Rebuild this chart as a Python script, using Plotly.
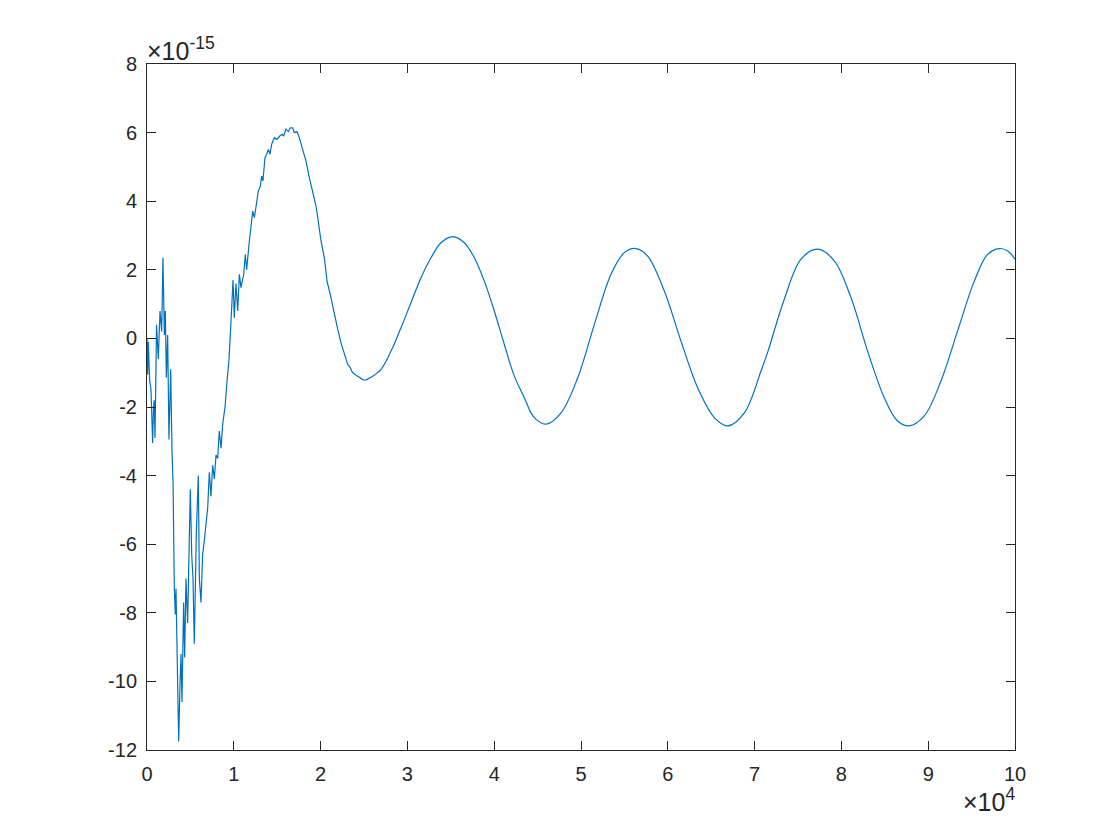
import plotly.graph_objects as go

# x in units of 1e4, y in units of 1e-15
noisy_x = [0, 0.008, 0.015, 0.03, 0.046, 0.065, 0.075, 0.084, 0.092, 0.11, 0.13, 0.15,
           0.169, 0.184, 0.2, 0.211, 0.223, 0.238, 0.253, 0.273, 0.288, 0.3, 0.315,
           0.326, 0.334, 0.346, 0.365, 0.38, 0.392, 0.403, 0.422, 0.434, 0.449, 0.468,
           0.48, 0.499, 0.515, 0.53, 0.545, 0.568, 0.591, 0.603, 0.622, 0.641, 0.66,
           0.68, 0.699, 0.718, 0.737, 0.757, 0.776, 0.795, 0.814, 0.833, 0.853, 0.872,
           0.899, 0.922, 0.945, 0.968, 0.991, 1.006, 1.025, 1.045, 1.064, 1.083, 1.114,
           1.133, 1.148, 1.179, 1.198, 1.218, 1.237, 1.256, 1.283, 1.306, 1.321, 1.336,
           1.359, 1.379, 1.398, 1.417, 1.436, 1.467, 1.498, 1.529, 1.559, 1.575, 1.601,
           1.628, 1.651, 1.678, 1.697, 1.728, 1.755, 1.793, 1.832, 1.87, 1.909, 1.947,
           1.967, 2.005, 2.043, 2.074, 2.12, 2.158, 2.197, 2.235, 2.273, 2.312, 2.342]
noisy_y = [0, -1.05, -0.1, -1.2, -1.5, -3.05, -2.0, -1.8, -2.9, 0.4, -0.6, 0.8,
           0.2, 2.35, 0.1, 0.8, -1.15, 0.1, -2.95, -0.9, -3.3, -4.2, -7.3,
           -8.05, -7.3, -8.9, -11.75, -10.1, -9.2, -10.6, -7.7, -9.3, -7.0, -8.3,
           -6.9, -4.4, -6.3, -7.0, -8.9, -5.7, -4.0, -7.0, -7.7, -6.3, -5.9,
           -5.5, -4.95, -3.9, -4.6, -3.7, -4.1, -3.4, -3.5, -2.7, -3.2, -2.5,
           -2.0, -1.25, -0.6, 0.5, 1.7, 0.6, 1.6, 0.8, 1.87, 1.48, 1.87,
           2.45, 2.0, 2.84, 3.23, 3.71, 3.52, 3.81, 4.3, 4.44, 4.73, 4.59,
           5.27, 5.37, 5.51, 5.37, 5.66, 5.85, 5.8, 5.9, 5.95, 5.9, 6.1,
           6.03, 6.14, 6.14, 6.0, 6.03, 5.85, 5.51, 5.17, 4.69, 4.25, 3.86,
           3.52, 2.84, 2.35, 1.67, 1.19, 0.7, 0.27, -0.13, -0.46, -0.76, -0.85]

wave_x = [2.342, 2.37, 2.427, 2.504, 2.581, 2.696, 2.811, 2.926, 3.041, 3.157, 3.272,
          3.387, 3.522, 3.656, 3.771, 3.886, 4.001, 4.116, 4.232, 4.347, 4.424, 4.482,
          4.597, 4.77, 4.962, 5.154, 5.346, 5.499, 5.634, 5.768, 5.96, 6.152, 6.344,
          6.536, 6.69, 6.882, 7.074, 7.151, 7.343, 7.535, 7.727, 7.918, 8.11, 8.302,
          8.494, 8.648, 8.782, 8.955, 9.147, 9.339, 9.531, 9.685, 9.82, 9.916, 10.0]
wave_y = [-0.85, -1.0, -1.1, -1.22, -1.13, -0.9, -0.37, 0.31, 1.04, 1.77, 2.35,
          2.79, 2.97, 2.79, 2.35, 1.67, 0.8, -0.17, -1.1, -1.73, -2.17, -2.36,
          -2.5, -2.17, -1.15, 0.41, 1.87, 2.5, 2.62, 2.4, 1.38, -0.08, -1.44,
          -2.31, -2.55, -2.17, -0.95, -0.4, 1.15, 2.31, 2.6, 2.26, 1.19, -0.37,
          -1.73, -2.41, -2.55, -2.26, -1.24, 0.22, 1.67, 2.45, 2.62, 2.55, 2.31]

x_ticks = list(range(0, 11))
y_ticks = list(range(-12, 9, 2))

line_color = '#0072BD'
axis_color = '#262626'
tick_font = dict(family='Liberation Sans, Arial, sans-serif', size=20, color=axis_color)
exp_font = dict(family='Liberation Sans, Arial, sans-serif', size=25, color=axis_color)

fig = go.Figure()
fig.add_trace(go.Scatter(x=noisy_x, y=noisy_y, mode='lines',
                         line=dict(color=line_color, width=1.2)))
fig.add_trace(go.Scatter(x=wave_x, y=wave_y, mode='lines',
                         line=dict(color=line_color, width=1.2, shape='spline', smoothing=1.0)))

axis_common = dict(
    showgrid=False, zeroline=False, showline=True, linecolor=axis_color, linewidth=1,
    mirror='ticks', ticks='inside', ticklen=9, tickcolor=axis_color, tickwidth=1,
    tickfont=tick_font,
)
fig.update_xaxes(range=[0, 10], tickvals=x_ticks, ticktext=[str(v) for v in x_ticks],
                 ticklabelstandoff=6, **axis_common)
fig.update_yaxes(range=[-12, 8], tickvals=y_ticks, ticktext=[str(v) for v in y_ticks],
                 ticklabelstandoff=5, **axis_common)

# MATLAB-style exponent multipliers
fig.add_annotation(text='×10<sup>-15</sup>', xref='paper', yref='paper', x=0, y=1,
                   xanchor='left', yanchor='bottom', showarrow=False, font=exp_font,
                   xshift=-2, yshift=-3)
fig.add_annotation(text='×10<sup>4</sup>', xref='paper', yref='paper', x=1, y=0,
                   xanchor='right', yanchor='top', showarrow=False, font=exp_font,
                   xshift=2, yshift=-32)

fig.update_layout(
    width=1120, height=840,
    margin=dict(l=139, r=113, t=56, b=98),
    plot_bgcolor='white', paper_bgcolor='white',
    showlegend=False,
)

fig.write_html("out.html")
